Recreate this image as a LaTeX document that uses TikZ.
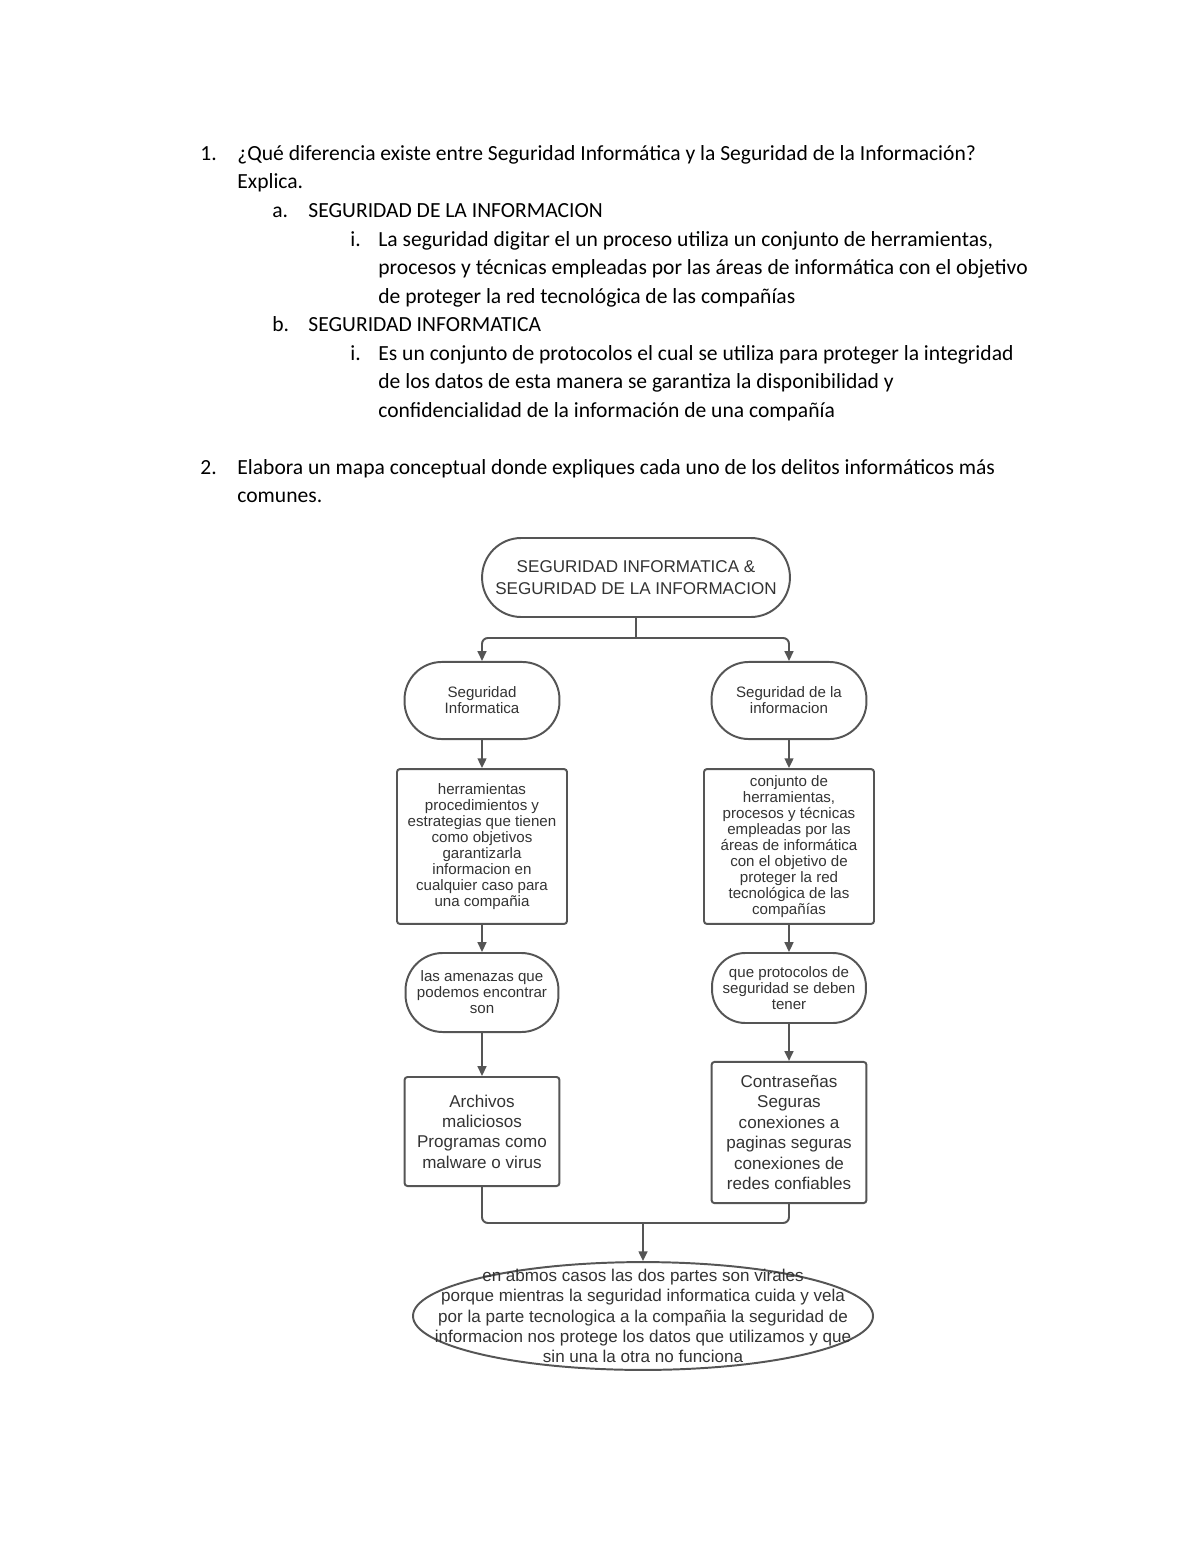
\documentclass[tikz,border=0pt]{standalone}
\usepackage{fontspec}
\setmainfont{Carlito}
\newfontfamily\diagfont{Liberation Sans}
\usetikzlibrary{arrows.meta,shapes.geometric}
\definecolor{linegray}{HTML}{555555}
\definecolor{textgray}{HTML}{333333}

\tikzset{
  doc/.style={anchor=base west,inner sep=0pt,font=\fontsize{11}{14.5}\selectfont},
  shapeline/.style={draw=linegray,line width=1pt,align=center,text=textgray,inner sep=2pt},
  stadium/.style={shapeline,rounded corners=19pt},
  boxnode/.style={shapeline,rounded corners=1.5pt},
  oval/.style={shapeline,ellipse},
  small/.style={font=\diagfont\fontsize{7.7}{8.2}\selectfont},
  big/.style={font=\diagfont\fontsize{8.7}{10.4}\selectfont},
  conn/.style={draw=linegray,line width=1pt},
  arr/.style={conn,-{Triangle[length=5pt,width=4.5pt]}}
}

\begin{document}
\begin{tikzpicture}[x=0.51pt,y=-0.51pt]
\useasboundingbox (0,0) rectangle (1200,1553);

% question 1
\node[doc] (n1) at (200,160.5) {1.};
\node[doc] (q1) at (237,160.5) {¿Qué diferencia existe entre Seguridad Informática y la Seguridad de la Información?};
\node[doc] (q1b) at (237,189) {Explica.};
\node[doc] (la) at (272,217.5) {a.};
\node[doc] (ta) at (308,217.5) {SEGURIDAD DE LA INFORMACION};
\node[doc] (lai) at (350,246) {i.};
\node[doc] (tai1) at (378,246) {La seguridad digitar el un proceso utiliza un conjunto de herramientas,};
\node[doc] (tai2) at (378,274.5) {procesos y técnicas empleadas por las áreas de informática con el objetivo};
\node[doc] (tai3) at (378,303) {de proteger la red tecnológica de las compañías};
\node[doc] (lb) at (272,331.5) {b.};
\node[doc] (tb) at (308,331.5) {SEGURIDAD INFORMATICA};
\node[doc] (lbi) at (350,360) {i.};
\node[doc] (tbi1) at (378,360) {Es un conjunto de protocolos el cual se utiliza para proteger la integridad};
\node[doc] (tbi2) at (378,388.5) {de los datos de esta manera se garantiza la disponibilidad y};
\node[doc] (tbi3) at (378,417) {confidencialidad de la información de una compañía};

% question 2
\node[doc] (n2) at (200,474) {2.};
\node[doc] (q2) at (237,474) {Elabora un mapa conceptual donde expliques cada uno de los delitos informáticos más};
\node[doc] (q2b) at (237,502.5) {comunes.};

% the map
\node[stadium,rounded corners=20pt,minimum width=157pt,minimum height=40.3pt,
  font=\diagfont\fontsize{8.7}{11}\selectfont] (title) at (636,577.5)
  {SEGURIDAD INFORMATICA \&\\SEGURIDAD DE LA INFORMACION};

\node[stadium,small,minimum width=79pt,minimum height=39.3pt] (sinf) at (482,700.5)
  {Seguridad\\Informatica};
\node[stadium,small,minimum width=79pt,minimum height=39.3pt] (sdi) at (789,700.5)
  {Seguridad de la\\informacion};

\node[boxnode,small,minimum width=86.7pt,minimum height=79pt] (hleft) at (482,846.5)
  {herramientas\\procedimientos y\\estrategias que tienen\\como objetivos\\garantizarla\\informacion en\\cualquier caso para\\una compañia};
\node[boxnode,small,minimum width=86.7pt,minimum height=79pt] (hright) at (789,846.5)
  {conjunto de\\herramientas,\\procesos y técnicas\\empleadas por las\\áreas de informática\\con el objetivo de\\proteger la red\\tecnológica de las\\compañías};

\node[stadium,small,minimum width=78pt,minimum height=40.3pt] (amen) at (482,992.5)
  {las amenazas que\\podemos encontrar\\son};
\node[stadium,small,rounded corners=17pt,minimum width=78.5pt,minimum height=35.7pt] (prot) at (789,988)
  {que protocolos de\\seguridad se deben\\tener};

\node[boxnode,big,minimum width=79pt,minimum height=55.6pt] (arch) at (482,1131.5)
  {Archivos\\maliciosos\\Programas como\\malware o virus};
\node[boxnode,big,minimum width=79pt,minimum height=72pt] (contr) at (789,1132.5)
  {Contraseñas\\Seguras\\conexiones a\\paginas seguras\\conexiones de\\redes confiables};

\node[oval,minimum width=234.6pt,minimum height=55pt] (final) at (643,1316) {};
\node[big,align=center,text=textgray,inner sep=0pt] (finaltext) at (final.center)
  {en abmos casos las dos partes son virales\\porque mientras la seguridad informatica cuida y vela\\por la parte tecnologica a la compañia la seguridad de\\informacion nos protege los datos que utilizamos y que\\sin una la otra no funciona};

% connectors
\coordinate (split) at (636,638);
\coordinate (join) at (643,1223);
\draw[conn] (title.south) -- (split);
\draw[arr,rounded corners=3pt] (split) -| (sinf.north);
\draw[arr,rounded corners=3pt] (split) -| (sdi.north);
\draw[arr] (sinf.south) -- (hleft.north);
\draw[arr] (sdi.south) -- (hright.north);
\draw[arr] (hleft.south) -- (amen.north);
\draw[arr] (hright.south) -- (prot.north);
\draw[arr] (amen.south) -- (arch.north);
\draw[arr] (prot.south) -- (contr.north);
\draw[conn,rounded corners=3pt] (arch.south) |- (join) -| (contr.south);
\draw[arr] (join) -- (final.north);
\end{tikzpicture}
\end{document}
